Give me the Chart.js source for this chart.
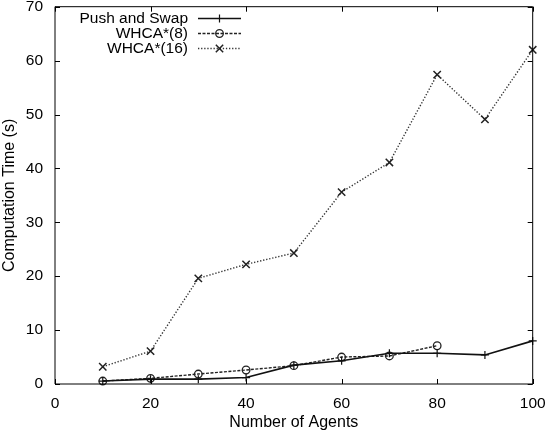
<!DOCTYPE html>
<html>
<head>
<meta charset="utf-8">
<script src="https://cdn.jsdelivr.net/npm/chart.js@4/dist/chart.umd.min.js"></script>
<style>
  html, body { margin: 0; padding: 0; background: #fff; }
  #wrap { width: 548px; height: 434px; }
</style>
</head>
<body>
<div id="wrap"><canvas id="c" width="548" height="434"></canvas></div>
<script>
const agents = [10, 20, 30, 40, 50, 60, 70, 80, 90, 100];
const pushAndSwap = [0.55, 0.9, 0.9, 1.2, 3.5, 4.3, 5.7, 5.7, 5.4, 8.0];
const whca8 = [0.55, 1.05, 1.85, 2.6, 3.4, 5.0, 5.2, 7.1];
const whca16 = [3.2, 6.1, 19.6, 22.2, 24.3, 35.6, 41.1, 57.4, 49.1, 62.0];
const seriesLabels = ['Push and Swap', 'WHCA*(8)', 'WHCA*(16)'];
const xTicks = [0, 20, 40, 60, 80, 100];
const yTicks = [0, 10, 20, 30, 40, 50, 60, 70];

const FONT = '"Liberation Sans", Arial, Helvetica, sans-serif';
const toPts = (vals) => vals.map((v, i) => ({ x: agents[i], y: v }));

const frameTicks = {
  id: 'frameTicks',
  afterDatasetsDraw(chart) {
    const { ctx, chartArea: a, scales } = chart;
    const L = 5;
    ctx.save();
    ctx.strokeStyle = '#000';
    ctx.lineWidth = 1;
    ctx.beginPath();
    ctx.rect(a.left, a.top, a.right - a.left, a.bottom - a.top);
    xTicks.forEach(v => {
      const px = Math.round(scales.x.getPixelForValue(v)) + 0.5;
      ctx.moveTo(px, a.bottom); ctx.lineTo(px, a.bottom - L);
      ctx.moveTo(px, a.top); ctx.lineTo(px, a.top + L);
    });
    yTicks.forEach(v => {
      const py = Math.round(scales.y.getPixelForValue(v)) + 0.5;
      ctx.moveTo(a.left, py); ctx.lineTo(a.left + L, py);
      ctx.moveTo(a.right, py); ctx.lineTo(a.right - L, py);
    });
    ctx.stroke();
    ctx.restore();
  }
};

const keyLegend = {
  id: 'keyLegend',
  afterDatasetsDraw(chart) {
    const { ctx } = chart;
    const textRight = 188, x0 = 198, x1 = 241, rows = [18.5, 33.5, 48.5];
    ctx.save();
    ctx.font = '15.5px ' + FONT;
    ctx.textAlign = 'right';
    ctx.textBaseline = 'middle';
    chart.data.datasets.forEach((ds, i) => {
      const y = rows[i];
      ctx.fillStyle = '#000';
      ctx.fillText(ds.label, textRight, y + 0.5);
      ctx.strokeStyle = ds.borderColor;
      ctx.lineWidth = ds.borderWidth;
      ctx.setLineDash(ds.borderDash || []);
      ctx.beginPath();
      ctx.moveTo(x0, y); ctx.lineTo(x1, y);
      ctx.stroke();
      ctx.setLineDash([]);
      ctx.fillStyle = 'rgba(0,0,0,0)';
      ctx.strokeStyle = ds.pointBorderColor;
      ctx.lineWidth = ds.pointBorderWidth;
      Chart.helpers.drawPoint(ctx, {
        pointStyle: ds.pointStyle, radius: ds.pointRadius, rotation: 0,
        borderWidth: ds.pointBorderWidth
      }, (x0 + x1) / 2, y);
    });
    ctx.restore();
  }
};

new Chart(document.getElementById('c'), {
  type: 'line',
  data: {
    datasets: [
      {
        label: seriesLabels[0], data: toPts(pushAndSwap),
        borderColor: '#111', borderWidth: 1.6, borderDash: [],
        pointStyle: 'cross', pointRadius: 4, pointBorderWidth: 1.2,
        pointBorderColor: '#111', pointBackgroundColor: 'rgba(0,0,0,0)', tension: 0, clip: false
      },
      {
        label: seriesLabels[1], data: toPts(whca8),
        borderColor: '#222', borderWidth: 1.4, borderDash: [3, 1.5],
        pointStyle: 'circle', pointRadius: 3.8, pointBorderWidth: 1.3,
        pointBorderColor: '#222', pointBackgroundColor: 'rgba(0,0,0,0)', tension: 0, clip: false
      },
      {
        label: seriesLabels[2], data: toPts(whca16),
        borderColor: '#333', borderWidth: 1.4, borderDash: [1.3, 1.8],
        pointStyle: 'crossRot', pointRadius: 5.2, pointBorderWidth: 1.5,
        pointBorderColor: '#222', pointBackgroundColor: 'rgba(0,0,0,0)', tension: 0, clip: false
      }
    ]
  },
  options: {
    responsive: false,
    animation: false,
    devicePixelRatio: 1,
    layout: { padding: { left: 0, top: 6, right: 15.3, bottom: 0 } },
    plugins: { legend: { display: false }, tooltip: { enabled: false } },
    elements: { line: { borderJoinStyle: 'miter' } },
    scales: {
      x: {
        type: 'linear', min: 0, max: 100,
        afterBuildTicks: (s) => { s.ticks = xTicks.map(v => ({ value: v })); },
        afterFit: (s) => { s.height = 50; s.paddingLeft = 0; s.paddingRight = 0; },
        grid: { display: false, drawTicks: false },
        border: { display: false },
        ticks: { color: '#000', font: { family: FONT, size: 15.5 }, padding: 10, maxRotation: 0 },
        title: { display: true, text: 'Number of Agents', color: '#000', font: { family: FONT, size: 16 }, padding: { top: 0, bottom: 2 } }
      },
      y: {
        type: 'linear', min: 0, max: 70,
        afterBuildTicks: (s) => { s.ticks = yTicks.map(v => ({ value: v })); },
        afterFit: (s) => { s.width = 55; s.paddingTop = 0; s.paddingBottom = 0; },
        grid: { display: false, drawTicks: false },
        border: { display: false },
        ticks: { color: '#000', font: { family: FONT, size: 15.5 }, padding: 12 },
        title: { display: true, text: 'Computation Time (s)', color: '#000', font: { family: FONT, size: 16 }, padding: { top: 0, bottom: 0 } }
      }
    }
  },
  plugins: [frameTicks, keyLegend]
});
</script>
</body>
</html>
